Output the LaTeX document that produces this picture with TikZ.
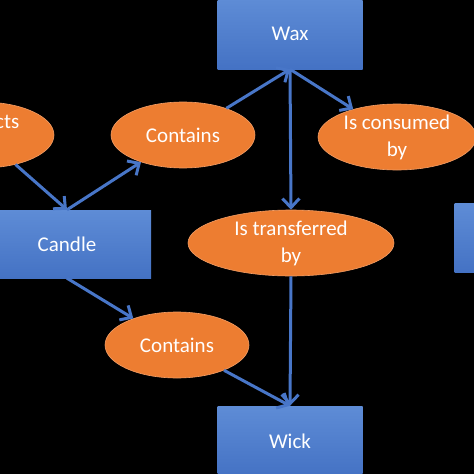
\documentclass[tikz,border=0pt]{standalone}
\usepackage{fontspec}
\setmainfont{Carlito}
\usepackage{tikz}
\usetikzlibrary{positioning, arrows.meta, shapes.geometric}
\definecolor{boxblue}{RGB}{68,114,196}
\definecolor{boxlight}{RGB}{94,140,214}
\definecolor{ovalorange}{RGB}{237,125,49}
\definecolor{arrowblue}{RGB}{72,118,200}
\tikzset{
  concept/.style={rectangle, top color=boxlight, bottom color=boxblue, minimum width=145pt, minimum height=70pt, inner sep=0pt, text=white},
  link/.style={ellipse, fill=ovalorange, draw=ovalorange!75!white, line width=0.6pt, minimum width=144pt, minimum height=66pt, inner sep=0pt, text=white, align=center},
  rel/.style={draw=arrowblue, line width=3pt, -{Straight Barb[length=9pt, width=17pt]}}
}
\begin{document}
\begin{tikzpicture}[x=1pt, y=-1pt, font=\fontsize{21}{27}\selectfont]
\fill[black] (0,0) rectangle (474,474);
\useasboundingbox (0,0) rectangle (474,474);
\clip (0,0) rectangle (474,474);
\node[concept] (wax) at (290,34) {Wax};
\node[concept, minimum width=168pt, minimum height=68pt] (candle) at (67,244) {Candle};
\node[concept, minimum height=69pt] (other) at (527,238) {};
\node[concept] (wick) at (290,441) {Wick};
\node[link] (interacts) at (-18,135) {Interacts\\\mbox{}};
\node[link] (contains1) at (183,135) {Contains};
\node[link, minimum width=158pt] (consumed) at (397,137) {Is consumed\\by};
\node[link, minimum width=206pt] (transferred) at (291,243) {Is transferred\\by};
\node[link] (contains2) at (177,345) {Contains};
\draw[rel] (interacts) -- (candle.north);
\draw[rel] (candle.north) -- (contains1);
\draw[rel] (contains1) -- (wax.south);
\draw[rel] (wax.south) -- (consumed);
\draw[rel] (wax.south) -- (transferred.north);
\draw[rel] (transferred.south) -- (wick.north);
\draw[rel] (candle.south) -- (contains2);
\draw[rel] (contains2) -- (wick.north);
\end{tikzpicture}
\end{document}
